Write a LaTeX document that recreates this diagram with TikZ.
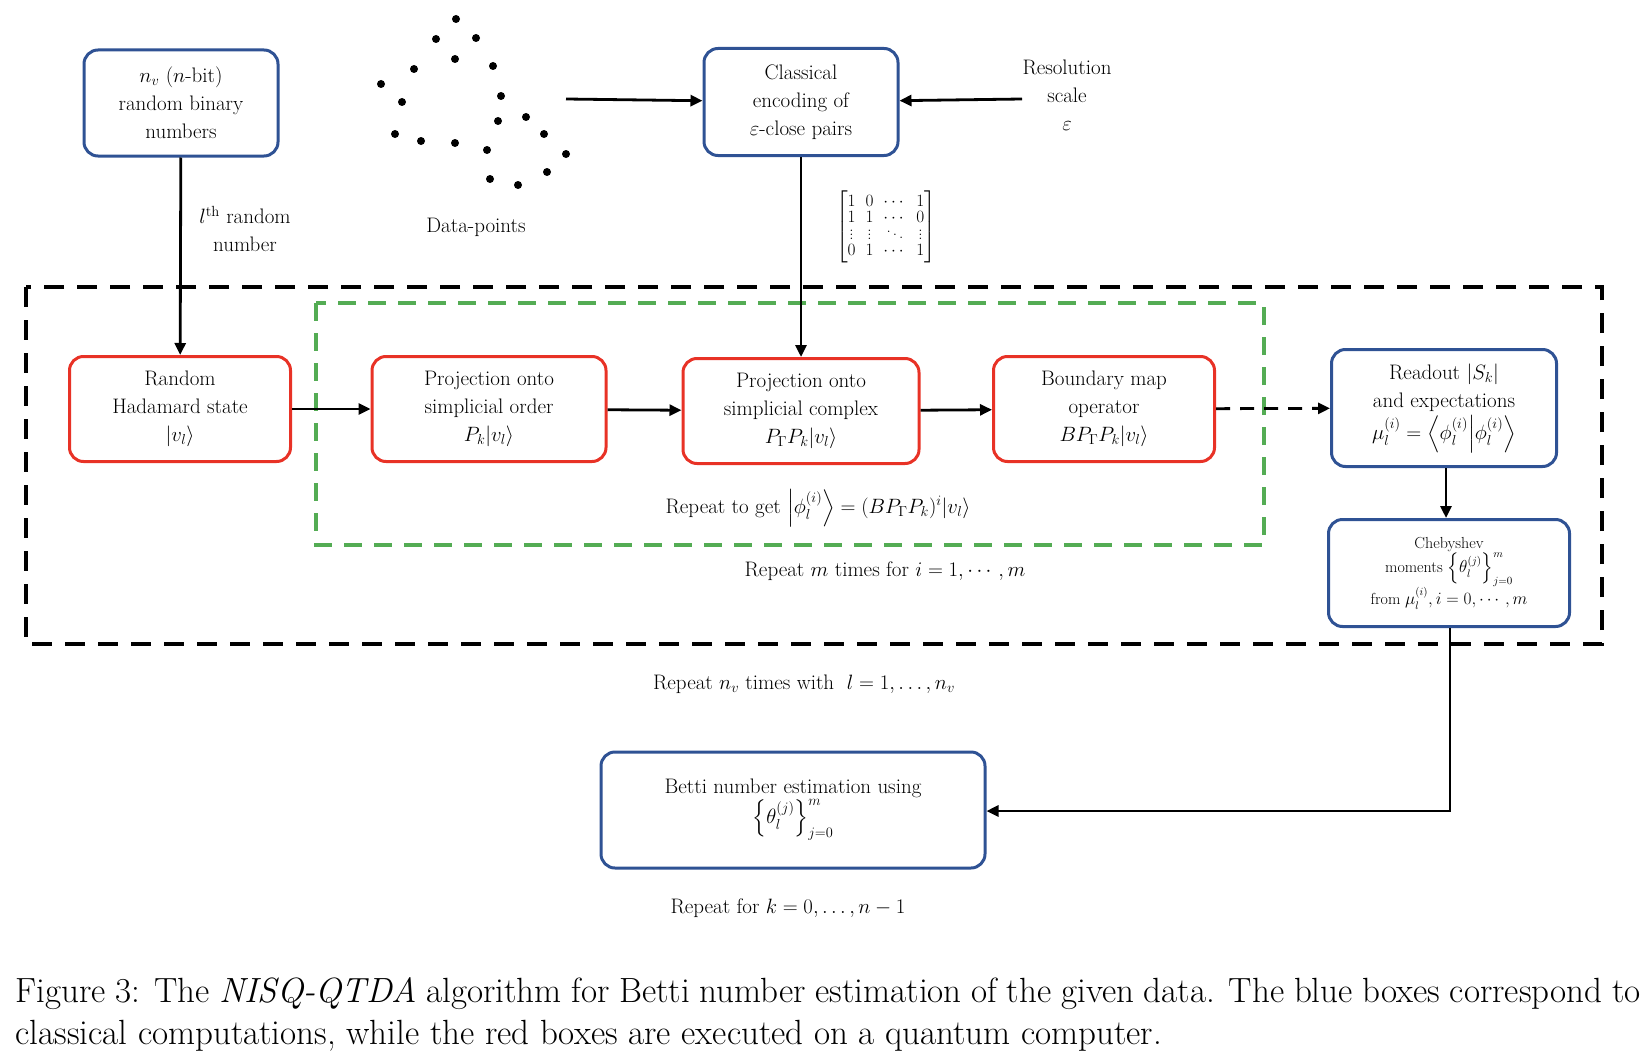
\documentclass[tikz,border=0pt]{standalone}
\usepackage{amsmath}
\usetikzlibrary{arrows.meta}
\definecolor{qred}{RGB}{232,50,38}
\definecolor{cblue}{RGB}{47,82,148}
\definecolor{dgreen}{RGB}{84,172,84}
\begin{document}
\begin{tikzpicture}[x=1pt,y=-1pt,
  box/.style={draw,line width=3pt,rounded corners=14pt,align=center,inner sep=0pt,font=\fontsize{21}{28}\selectfont},
  cbox/.style={box,draw=cblue},
  qbox/.style={box,draw=qred},
  lbl/.style={align=center,font=\fontsize{21}{28}\selectfont},
  arr/.style={line width=2.8pt,-{Triangle[length=12pt,width=11pt]}},
  dot/.style={circle,fill,inner sep=0pt,minimum size=8pt}]
\useasboundingbox (0,0) rectangle (1648,1062);
\node[cbox,minimum width=194pt,minimum height=106pt] (nv) at (181,103) {$n_v$ ($n$-bit)\\random binary\\numbers};
\node[cbox,minimum width=194pt,minimum height=107pt] (ce) at (801,102) {Classical\\encoding of\\$\varepsilon$-close pairs};
\node[lbl] (res) at (1067,95) {Resolution\\scale\\$\varepsilon$};
\coordinate (resE) at (1022,99);
\coordinate (dataE) at (566,99);
\foreach \i/\x/\y in {1/456/19,2/436/39,3/476/38,4/455/59,5/493/66,6/414/69,7/381/84,8/501/96,9/402/102,10/498/121,11/526/117,12/395/134,13/421/141,14/455/143,15/487/150,16/544/134,17/566/154,18/547/172,19/490/179,20/518/185}
  \node[dot] (p\i) at (\x,\y) {};
\node[lbl] (dp) at (476,227) {Data-points};
\node[lbl] (lth) at (245,229) {$l^{\text{th}}$ random\\number};
\node (mat) at (886,227) {\fontsize{17}{20}\selectfont$\begin{bmatrix}1&0&\cdots&1\\[-4pt]1&1&\cdots&0\\[-4pt]\vdots&\vdots&\ddots&\vdots\\[-4pt]0&1&\cdots&1\end{bmatrix}$};
\draw[line width=4pt,dash pattern=on 20pt off 13pt] (26,287) rectangle (1602,644);
\draw[dgreen,line width=3.2pt,dash pattern=on 18pt off 12pt] (316,303) rectangle (1264,545);
\node[qbox,minimum width=221pt,minimum height=105pt] (r1) at (180,409) {Random\\Hadamard state\\$|v_l\rangle$};
\node[qbox,minimum width=234pt,minimum height=105pt] (r2) at (489,409) {Projection onto\\simplicial order\\$P_k|v_l\rangle$};
\node[qbox,minimum width=236pt,minimum height=105pt] (r3) at (801,411) {Projection onto\\simplicial complex\\$P_\Gamma P_k|v_l\rangle$};
\node[qbox,minimum width=221pt,minimum height=105pt] (r4) at (1104,409) {Boundary map\\operator\\$BP_\Gamma P_k|v_l\rangle$};
\node[cbox,minimum width=225pt,minimum height=117pt] (ro) at (1444,408) {Readout $|S_k|$\\and expectations\\[4pt]$\mu_l^{(i)}=\left\langle\phi_l^{(i)}\middle|\phi_l^{(i)}\right\rangle$};
\node[cbox,minimum width=241pt,minimum height=107pt,font=\fontsize{16}{22}\selectfont] (cb) at (1449,573) {Chebyshev\\moments $\left\{\theta_l^{(j)}\right\}_{j=0}^{m}$\\from $\mu_l^{(i)}, i=0,\cdots,m$};
\node[lbl] (rg) at (818,508) {Repeat to get $\left|\phi_l^{(i)}\right\rangle=(BP_\Gamma P_k)^i|v_l\rangle$};
\node[lbl] (rm) at (885,571) {Repeat $m$ times for $i=1,\cdots,m$};
\node[lbl] (rn) at (804,684) {Repeat $n_v$ times with\ \ $l=1,\ldots,n_v$};
\node[cbox,minimum width=384pt,minimum height=116pt] (bt) at (793,810) {Betti number estimation using\\$\left\{\theta_l^{(j)}\right\}_{j=0}^{m}$};
\node[lbl] (rk) at (788,908) {Repeat for $k=0,\ldots,n-1$};
\node[text width=1625pt,align=justify,inner sep=0pt,font=\fontsize{35}{42}\selectfont] (cap) at (828,1014) {Figure 3: The \emph{NISQ-QTDA} algorithm for Betti number estimation of the given data. The blue boxes correspond to classical computations, while the red boxes are executed on a quantum computer.};
\draw[arr] (nv) -- (r1);
\draw[arr] (dataE) -- (ce);
\draw[arr] (resE) -- (ce);
\draw[arr] (ce.south) -- (r3.north -| ce.south);
\draw[arr] (r1) -- (r2);
\draw[arr] (r2) -- (r3);
\draw[arr] (r3) -- (r4);
\draw[arr,dash pattern=on 14pt off 10pt] (r4) -- (ro);
\draw[arr] (ro.south -| 1446,0) -- (cb.north -| 1446,0);
\draw[arr] (cb.south -| 1450,0) |- (bt.east |- 0,811);
\end{tikzpicture}
\end{document}
